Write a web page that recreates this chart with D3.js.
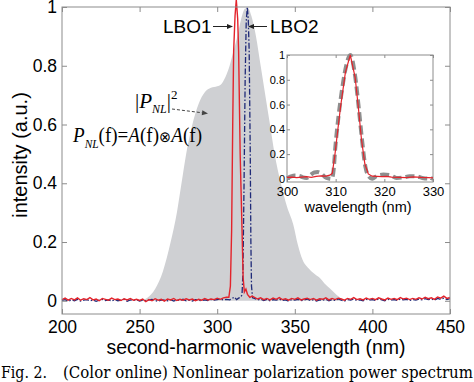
<!DOCTYPE html>
<html><head><meta charset="utf-8">
<script src="https://cdn.jsdelivr.net/npm/d3@7"></script>
<style>body{margin:0;background:#fff}svg{display:block}</style>
</head><body><svg id="c" width="474" height="382"></svg>
<script>
// ---------- data ----------
const xTicks = [200, 250, 300, 350, 400, 450];
const xTickLabels = ["200", "250", "300", "350", "400", "450"];
const yTicks = [0, 0.2, 0.4, 0.6, 0.8, 1];
const yTickLabels = ["0", "0.2", "0.4", "0.6", "0.8", "1"];
const insetXTicks = [300, 310, 320, 330];
const insetXTickLabels = ["300", "310", "320", "330"];

// |P_NL|^2 grey spectrum
const grayWl  = [250,255,260,265,270,274,277,280,284,288,292,296,300,303,306,308,310,313,316,318,320,322,325,328,331,334,337,341,345,349,352,355,359,363,366,369,373,377,382];
const grayVal = [0,0.01,0.04,0.1,0.2,0.3,0.4,0.5,0.6,0.67,0.71,0.725,0.73,0.74,0.77,0.8,0.84,0.9,0.97,0.995,0.995,0.97,0.9,0.8,0.7,0.6,0.5,0.4,0.32,0.26,0.19,0.14,0.11,0.09,0.078,0.06,0.04,0.02,0];

// shared sampling grids for noisy baselines
const gridLeft  = [200,202,204,206,208,210,212,214,216,218,220,222,224,226,228,230,232,234,236,238,240,242,244,246,248,250,252,254,256,258,260,262,264,266,268,270,272,274,276,278,280,282,284,286,288,290,292,294,296,298,300,302,304,306];
const gridRight = [324,326,328,330,332,334,336,338,340,342,344,346,348,350,352,354,356,358,360,362,364,366,368,370,372,374,376,378,380,382,384,386,388,390,392,394,396,398,400,402,404,406,408,410,412,414,416,418,420,422,424,426,428,430,432,434,436,438,440,442,444,446,448,450];

// LBO1 (red)
const redLeft = [0.004,0.009,0.002,0.008,0.003,0.010,0.002,0.007,0.004,0.011,0.003,0.006,0.000,0.008,0.005,0.002,0.009,0.004,0.006,0.001,0.007,0.003,0.008,0.002,0.005,0.001,0.006,-0.003,0.004,0.000,0.007,0.002,0.005,-0.001,0.006,0.003,0.008,0.001,0.005,0.002,0.007,0.003,0.006,0.000,0.005,0.002,0.008,0.003,0.006,0.004,0.009,0.005,0.010,0.012];
const redPeakWl  = [307.5,308.5,309.3,310,310.6,311.5,312.3,313.2,313.8,314.8,316,316.7,317.5,318.5,319.5,321,322.5];
const redPeakVal = [0.012,0.05,0.24,0.6,0.85,0.97,1.025,0.96,0.85,0.5,0.24,0.08,0.03,0.04,0.022,0.012,0.016];
const redRight = [0.012,0.006,0.010,0.004,0.008,0.003,0.009,0.005,0.011,0.004,
  0.007,0.002,0.008,0.005,0.010,0.003,0.006,0.009,0.004,0.008,
  0.002,0.007,0.005,0.010,0.003,0.008,0.004,0.009,0.006,0.002,
  0.008,0.005,0.011,0.004,0.007,0.003,0.009,0.005,0.008,0.004,
  0.010,0.006,0.003,0.009,0.005,0.008,0.004,0.011,0.006,0.009,
  0.004,0.008,0.005,0.010,0.006,0.012,0.007,0.010,0.005,0.013,
  0.009,0.016,0.008,0.011];

// LBO2 (blue dash-dot)
const blueLeft = [0.001,0.004,-0.002,0.003,0.000,0.005,-0.001,0.002,0.004,0.000,
  0.003,-0.002,0.002,0.005,0.001,0.003,-0.001,0.004,0.000,0.002,
  0.005,-0.002,0.003,0.001,0.004,-0.001,0.002,0.000,0.003,0.005,
  0.001,-0.002,0.003,0.002,0.000,0.004,-0.001,0.003,0.001,0.005,
  0.000,0.002,-0.001,0.004,0.002,0.000,0.003,0.001,0.005,0.002,
  0.004,0.006,0.003,0.005];
const bluePeakWl  = [308,309.5,311,312.5,313.8,315,316,316.6,317.3,318,318.7,319.4,320,320.6,321.3,321.7,322.1,322.8];
const bluePeakVal = [0.003,0.007,0.013,0.004,0.009,0.012,0.02,0.1,0.4,0.75,0.95,1.0,0.96,0.85,0.5,0.2,0.05,0.01];
const blueRight = [0.008,0.003,0.006,0.001,0.005,0.000,0.004,0.002,0.006,0.001,
  0.003,-0.001,0.004,0.002,0.005,0.000,0.003,0.006,0.001,0.004,
  -0.001,0.003,0.002,0.005,0.000,0.004,0.001,0.006,0.002,-0.001,
  0.004,0.002,0.006,0.001,0.003,0.000,0.005,0.002,0.004,0.001,
  0.006,0.003,0.000,0.005,0.002,0.004,0.001,0.006,0.003,0.005,
  0.001,0.004,0.002,0.006,0.003,0.007,0.004,0.006,0.002,0.008,
  0.005,0.009,0.004,0.007];

// inset: theory (grey dashed) and measurement (red)
const insetGrayWl  = [300,300.8,301.6,302.5,303.3,304,304.8,305.6,306.3,307,307.8,308.6,309.2,309.6,309.9,310.6,311.3,312.2,313,314,314.7,315.4,316.1,316.8,317.5,318.5,319.8,321.2,322.5,323.9,325.2,326.6,327.8,329,330];
const insetGrayVal = [0.005,0.02,0.028,0.025,0.012,0.008,0.03,0.052,0.055,0.045,0.015,0.003,0.0,0.08,0.24,0.51,0.72,0.92,1.0,0.83,0.59,0.32,0.10,0.02,0.002,0.025,0.035,0.03,0.008,0.012,0.022,0.02,0.008,0.003,0.004];
const insetRedWl  = [300,301,302,303,304,305,306,307,308,308.8,309.3,309.8,310.3,311,312,313,314,314.6,315.3,316,316.7,317.5,318.5,319.5,320.5,321.5,323,324.5,326,327.5,329,330];
const insetRedVal = [0.012,0.015,0.01,0.014,0.018,0.012,0.02,0.025,0.022,0.03,0.045,0.18,0.35,0.58,0.86,1.0,0.82,0.6,0.32,0.12,0.04,0.022,0.02,0.018,0.02,0.014,0.012,0.01,0.016,0.012,0.01,0.008];

// ---------- drawing ----------
const svg = d3.select("#c");
const sans = "'Liberation Sans', Arial, sans-serif";
const serif = "'Liberation Serif', 'Times New Roman', serif";
const axisCol = "#8c8c8c";

const x = d3.scaleLinear().domain([200, 450]).range([62, 450]);
const y = d3.scaleLinear().domain([-0.045, 1]).range([314, 7]);

const zip = (a, b) => a.map((v, i) => [v, b[i]]);
const grayPts = zip(grayWl, grayVal);
const redPts = zip(gridLeft, redLeft).concat(zip(redPeakWl, redPeakVal), zip(gridRight, redRight));
const bluePts = zip(gridLeft, blueLeft).concat(zip(bluePeakWl, bluePeakVal), zip(gridRight, blueRight));

svg.append("path").datum(grayPts)
  .attr("d", d3.area().x(d => x(d[0])).y0(y(0)).y1(d => y(d[1])).curve(d3.curveMonotoneX))
  .attr("fill", "#cfd0d3");

const line = d3.line().x(d => x(d[0])).y(d => y(d[1]));
svg.append("path").datum(bluePts).attr("d", line)
  .attr("fill", "none").attr("stroke", "#1f2a78").attr("stroke-width", 1.3)
  .attr("stroke-dasharray", "6,2,1.5,2");
svg.append("path").datum(redPts).attr("d", line)
  .attr("fill", "none").attr("stroke", "#e3232b").attr("stroke-width", 1.4);

// axes box
svg.append("rect").attr("x", 62).attr("y", 7).attr("width", 388).attr("height", 307)
  .attr("fill", "none").attr("stroke", axisCol);

function styleAxis(g, size) {
  g.select(".domain").remove();
  g.selectAll(".tick line").attr("stroke", axisCol);
  g.selectAll(".tick text").attr("fill", "#000").style("font-family", sans).style("font-size", size + "px");
}
svg.append("g").attr("transform", "translate(0,314)")
  .call(d3.axisBottom(x).tickValues(xTicks).tickSize(-5).tickPadding(7).tickFormat((d, i) => xTickLabels[i]))
  .call(g => styleAxis(g, 17.5));
svg.append("g").attr("transform", "translate(0,7)")
  .call(d3.axisTop(x).tickValues(xTicks).tickSize(-5).tickFormat(""))
  .call(g => styleAxis(g, 10));
svg.append("g").attr("transform", "translate(62,0)")
  .call(d3.axisLeft(y).tickValues(yTicks).tickSize(-5).tickPadding(5).tickFormat((d, i) => yTickLabels[i]))
  .call(g => styleAxis(g, 17.5));
svg.append("g").attr("transform", "translate(450,0)")
  .call(d3.axisRight(y).tickValues(yTicks).tickSize(-5).tickFormat(""))
  .call(g => styleAxis(g, 10));

svg.append("text").attr("x", 256).attr("y", 354).attr("text-anchor", "middle")
  .style("font-family", sans).style("font-size", "19.5px").text("second-harmonic wavelength (nm)");
svg.append("text").attr("transform", "translate(27,155) rotate(-90)").attr("text-anchor", "middle")
  .style("font-family", sans).style("font-size", "20px").text("intensity (a.u.)");

// annotations
function arrow(x1, y1, x2, y2, dash, col) {
  const ang = Math.atan2(y2 - y1, x2 - x1), L = 6, W = 2.6;
  const bx = x2 - L * Math.cos(ang), by = y2 - L * Math.sin(ang);
  svg.append("line").attr("x1", x1).attr("y1", y1).attr("x2", bx).attr("y2", by)
    .attr("stroke", col).attr("stroke-width", 1).attr("stroke-dasharray", dash || null);
  svg.append("path").attr("d", `M${x2},${y2}L${bx - W * Math.sin(ang)},${by + W * Math.cos(ang)}L${bx + W * Math.sin(ang)},${by - W * Math.cos(ang)}Z`)
    .attr("fill", col);
}
svg.append("text").attr("x", 163).attr("y", 33).style("font-family", sans).style("font-size", "19px").text("LBO1");
svg.append("text").attr("x", 270).attr("y", 33).style("font-family", sans).style("font-size", "19px").text("LBO2");
arrow(213, 26.5, 233, 26.5, null, "#222");
arrow(267, 26.5, 248, 26.5, null, "#222");

const t1 = svg.append("text").attr("x", 135).attr("y", 108).style("font-family", serif).style("font-size", "21px");
t1.append("tspan").text("|");
t1.append("tspan").style("font-style", "italic").text("P");
t1.append("tspan").style("font-style", "italic").style("font-size", "12px").attr("dy", 5).text("NL");
t1.append("tspan").attr("dy", -5).text("|");
t1.append("tspan").style("font-size", "13px").attr("dy", -9).text("2");
arrow(172, 109, 208, 113.5, "3,2", "#444");

const t2 = svg.append("text").attr("x", 73).attr("y", 142).style("font-family", serif).style("font-size", "20px")
  .attr("textLength", 129).attr("lengthAdjust", "spacingAndGlyphs");
t2.append("tspan").style("font-style", "italic").text("P");
t2.append("tspan").style("font-style", "italic").style("font-size", "12px").attr("dy", 6).text("NL");
t2.append("tspan").attr("dy", -6).text("(f)=");
t2.append("tspan").style("font-style", "italic").text("A");
t2.append("tspan").text("(f)");
t2.append("tspan").style("font-size", "15px").text("⊗");
t2.append("tspan").style("font-style", "italic").text("A");
t2.append("tspan").text("(f)");

// ---------- inset ----------
const xi = d3.scaleLinear().domain([300, 330]).range([287, 433]);
const yi = d3.scaleLinear().domain([-0.025, 1]).range([182, 55]);
svg.append("rect").attr("x", 287).attr("y", 55).attr("width", 146).attr("height", 127)
  .attr("fill", "#fff").attr("stroke", axisCol);
const lineI = d3.line().x(d => xi(d[0])).y(d => yi(d[1]));
svg.append("path").datum(zip(insetGrayWl, insetGrayVal)).attr("d", lineI.curve(d3.curveMonotoneX))
  .attr("fill", "none").attr("stroke", "#8e8e8e").attr("stroke-width", 4).attr("stroke-dasharray", "9,4");
svg.append("path").datum(zip(insetRedWl, insetRedVal)).attr("d", d3.line().x(d => xi(d[0])).y(d => yi(d[1])))
  .attr("fill", "none").attr("stroke", "#e3232b").attr("stroke-width", 1.2);

svg.append("g").attr("transform", "translate(0,182)")
  .call(d3.axisBottom(xi).tickValues(insetXTicks).tickSize(-3).tickPadding(5).tickFormat((d, i) => insetXTickLabels[i]))
  .call(g => styleAxis(g, 13));
svg.append("g").attr("transform", "translate(0,55)")
  .call(d3.axisTop(xi).tickValues(insetXTicks).tickSize(-3).tickFormat(""))
  .call(g => styleAxis(g, 10));
svg.append("g").attr("transform", "translate(287,0)")
  .call(d3.axisLeft(yi).tickValues(yTicks).tickSize(-3).tickPadding(2).tickFormat((d, i) => yTickLabels[i]))
  .call(g => styleAxis(g, 11));
svg.append("g").attr("transform", "translate(433,0)")
  .call(d3.axisRight(yi).tickValues(yTicks).tickSize(-3).tickFormat(""))
  .call(g => styleAxis(g, 10));
svg.append("text").attr("x", 358).attr("y", 212).attr("text-anchor", "middle")
  .style("font-family", sans).style("font-size", "14.5px").text("wavelength (nm)");

// caption
const capFont = "'DejaVu Serif', 'Liberation Serif', serif";
svg.append("text").attr("x", 1).attr("y", 378).style("font-family", capFont).style("font-size", "16px")
  .attr("textLength", 46).attr("lengthAdjust", "spacingAndGlyphs").text("Fig. 2.");
svg.append("text").attr("x", 63).attr("y", 378).style("font-family", capFont).style("font-size", "16px")
  .attr("textLength", 410).attr("lengthAdjust", "spacingAndGlyphs").text("(Color online) Nonlinear polarization power spectrum");
</script></body></html>
